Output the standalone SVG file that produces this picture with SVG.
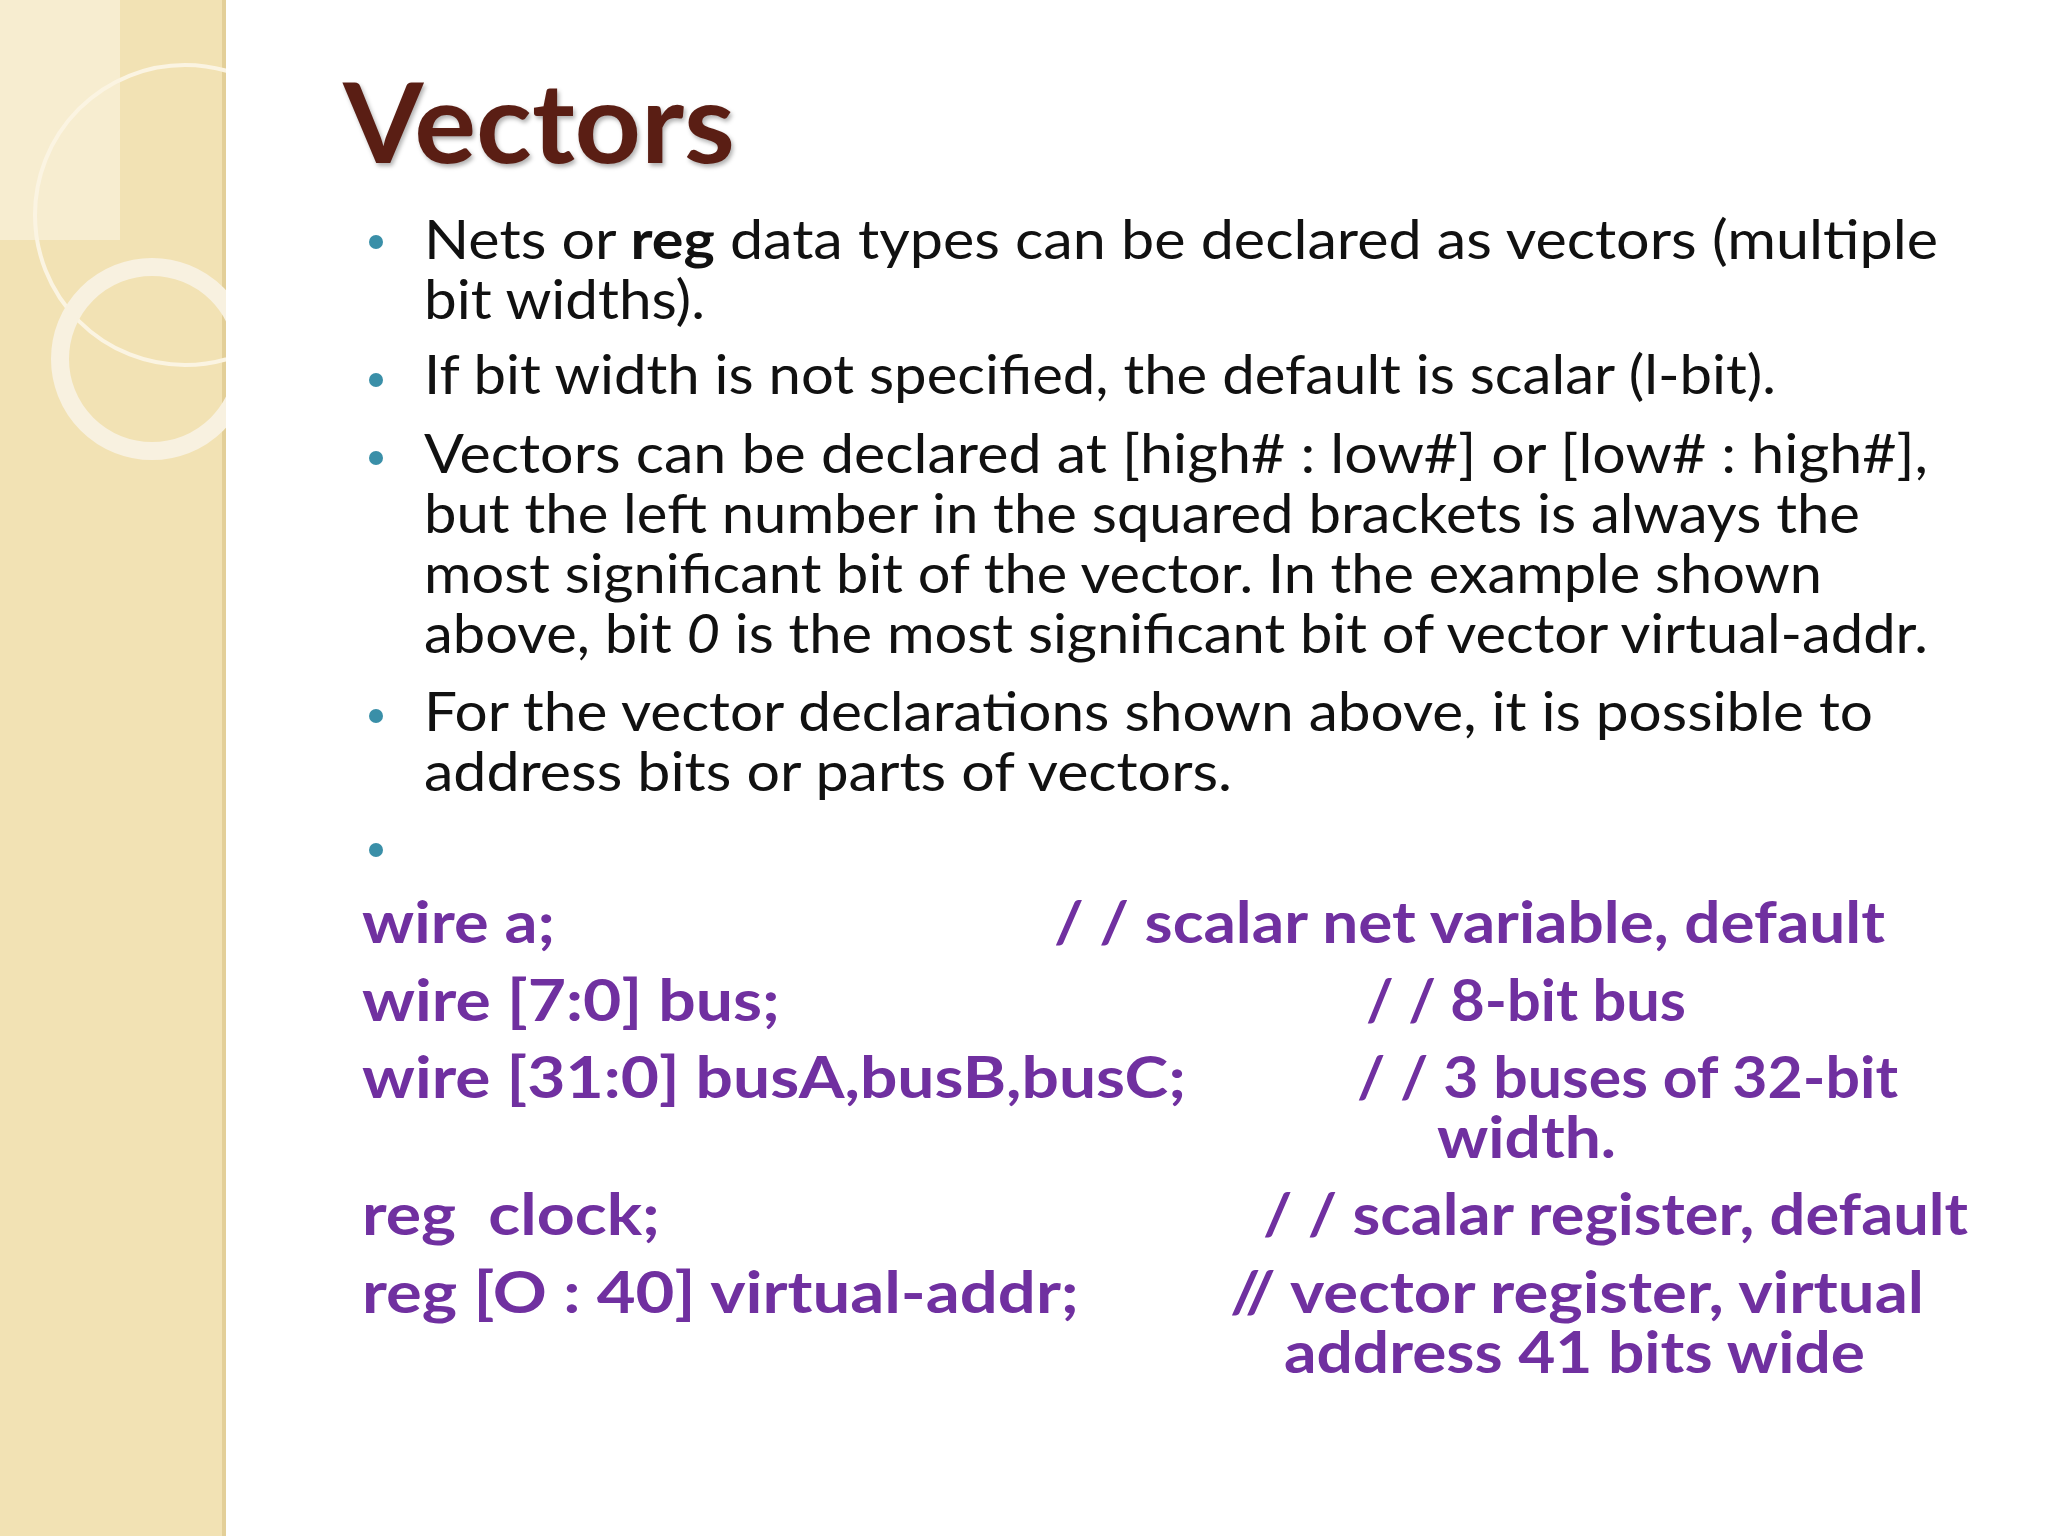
<svg xmlns="http://www.w3.org/2000/svg" width="2048" height="1536" viewBox="0 0 2048 1536">
<defs>
<style>
.t{font-family:Lato,"Open Sans","Liberation Sans",sans-serif;font-size:54px;fill:#111}
.c{font-family:Lato,"Open Sans","Liberation Sans",sans-serif;font-size:58px;font-weight:bold;fill:#7030A0}
.d{fill:#3A8FA8}
</style>
<clipPath id="side"><rect x="0" y="0" width="226" height="1536"/></clipPath>
</defs>
<rect width="2048" height="1536" fill="#FFFFFF"/>
<g id="sidebar">
<rect x="0" y="0" width="226" height="1536" fill="#F2E2B4"/>
<rect x="222" y="0" width="4" height="1536" fill="#E3CF98"/>
<g clip-path="url(#side)" fill="none">
<rect x="0" y="0" width="120" height="240" fill="#F7EDD0"/>
<circle cx="185" cy="215" r="150" stroke="#FBF4E2" stroke-width="4"/>
<circle cx="152" cy="359" r="92" stroke="#F8F1E0" stroke-width="18"/>
</g>
</g>
<g id="title">
<text x="343" y="163" font-family="Lato,'Open Sans','Liberation Sans',sans-serif" font-weight="bold" font-size="112" fill="#5A1E14" textLength="392" lengthAdjust="spacingAndGlyphs" style="filter:drop-shadow(2px 3px 2px rgba(0,0,0,0.3))">Vectors</text>
</g>
<g id="bullets">
<circle class="d" cx="376" cy="242" r="7"/>
<circle class="d" cx="376" cy="380" r="7"/>
<circle class="d" cx="376" cy="458" r="7"/>
<circle class="d" cx="376" cy="716" r="7"/>
<circle class="d" cx="376" cy="850" r="7"/>
<text class="t" x="424" y="259" textLength="1514" lengthAdjust="spacingAndGlyphs">Nets or <tspan font-weight="bold">reg</tspan> data types can be declared as vectors (multiple</text>
<text class="t" x="424" y="319" textLength="281" lengthAdjust="spacingAndGlyphs">bit widths).</text>
<text class="t" x="424" y="394" textLength="1352" lengthAdjust="spacingAndGlyphs">If bit width is not specified, the default is scalar (l-bit).</text>
<text class="t" x="424" y="473" textLength="1504" lengthAdjust="spacingAndGlyphs">Vectors can be declared at [high# : low#] or [low# : high#],</text>
<text class="t" x="424" y="533" textLength="1436" lengthAdjust="spacingAndGlyphs">but the left number in the squared brackets is always the</text>
<text class="t" x="424" y="593" textLength="1398" lengthAdjust="spacingAndGlyphs">most significant bit of the vector. In the example shown</text>
<text class="t" x="424" y="653" textLength="1504" lengthAdjust="spacingAndGlyphs">above, bit <tspan font-style="italic">0</tspan> is the most significant bit of vector virtual-addr.</text>
<text class="t" x="424" y="731" textLength="1449" lengthAdjust="spacingAndGlyphs">For the vector declarations shown above, it is possible to</text>
<text class="t" x="424" y="791" textLength="808" lengthAdjust="spacingAndGlyphs">address bits or parts of vectors.</text>
</g>
<g id="code">
<text class="c" x="362" y="943" textLength="193" lengthAdjust="spacingAndGlyphs">wire a;</text>
<text class="c" x="362" y="1021" textLength="418" lengthAdjust="spacingAndGlyphs">wire [7:0] bus;</text>
<text class="c" x="362" y="1098" textLength="824" lengthAdjust="spacingAndGlyphs">wire [31:0] busA,busB,busC;</text>
<text class="c" x="362" y="1235" textLength="298" lengthAdjust="spacingAndGlyphs" xml:space="preserve">reg  clock;</text>
<text class="c" x="362" y="1313" textLength="717" lengthAdjust="spacingAndGlyphs">reg [O : 40] virtual-addr;</text>
<text class="c" x="1054" y="943" textLength="831" lengthAdjust="spacingAndGlyphs">/ / scalar net variable, default</text>
<text class="c" x="1366" y="1021" textLength="320" lengthAdjust="spacingAndGlyphs">/ / 8-bit bus</text>
<text class="c" x="1357" y="1098" textLength="541" lengthAdjust="spacingAndGlyphs">/ / 3 buses of 32-bit</text>
<text class="c" x="1437" y="1158" textLength="179" lengthAdjust="spacingAndGlyphs">width.</text>
<text class="c" x="1263" y="1235" textLength="705" lengthAdjust="spacingAndGlyphs">/ / scalar register, default</text>
<text class="c" x="1230" y="1313" textLength="694" lengthAdjust="spacingAndGlyphs">// vector register, virtual</text>
<text class="c" x="1284" y="1373" textLength="581" lengthAdjust="spacingAndGlyphs">address 41 bits wide</text>
</g>
</svg>
